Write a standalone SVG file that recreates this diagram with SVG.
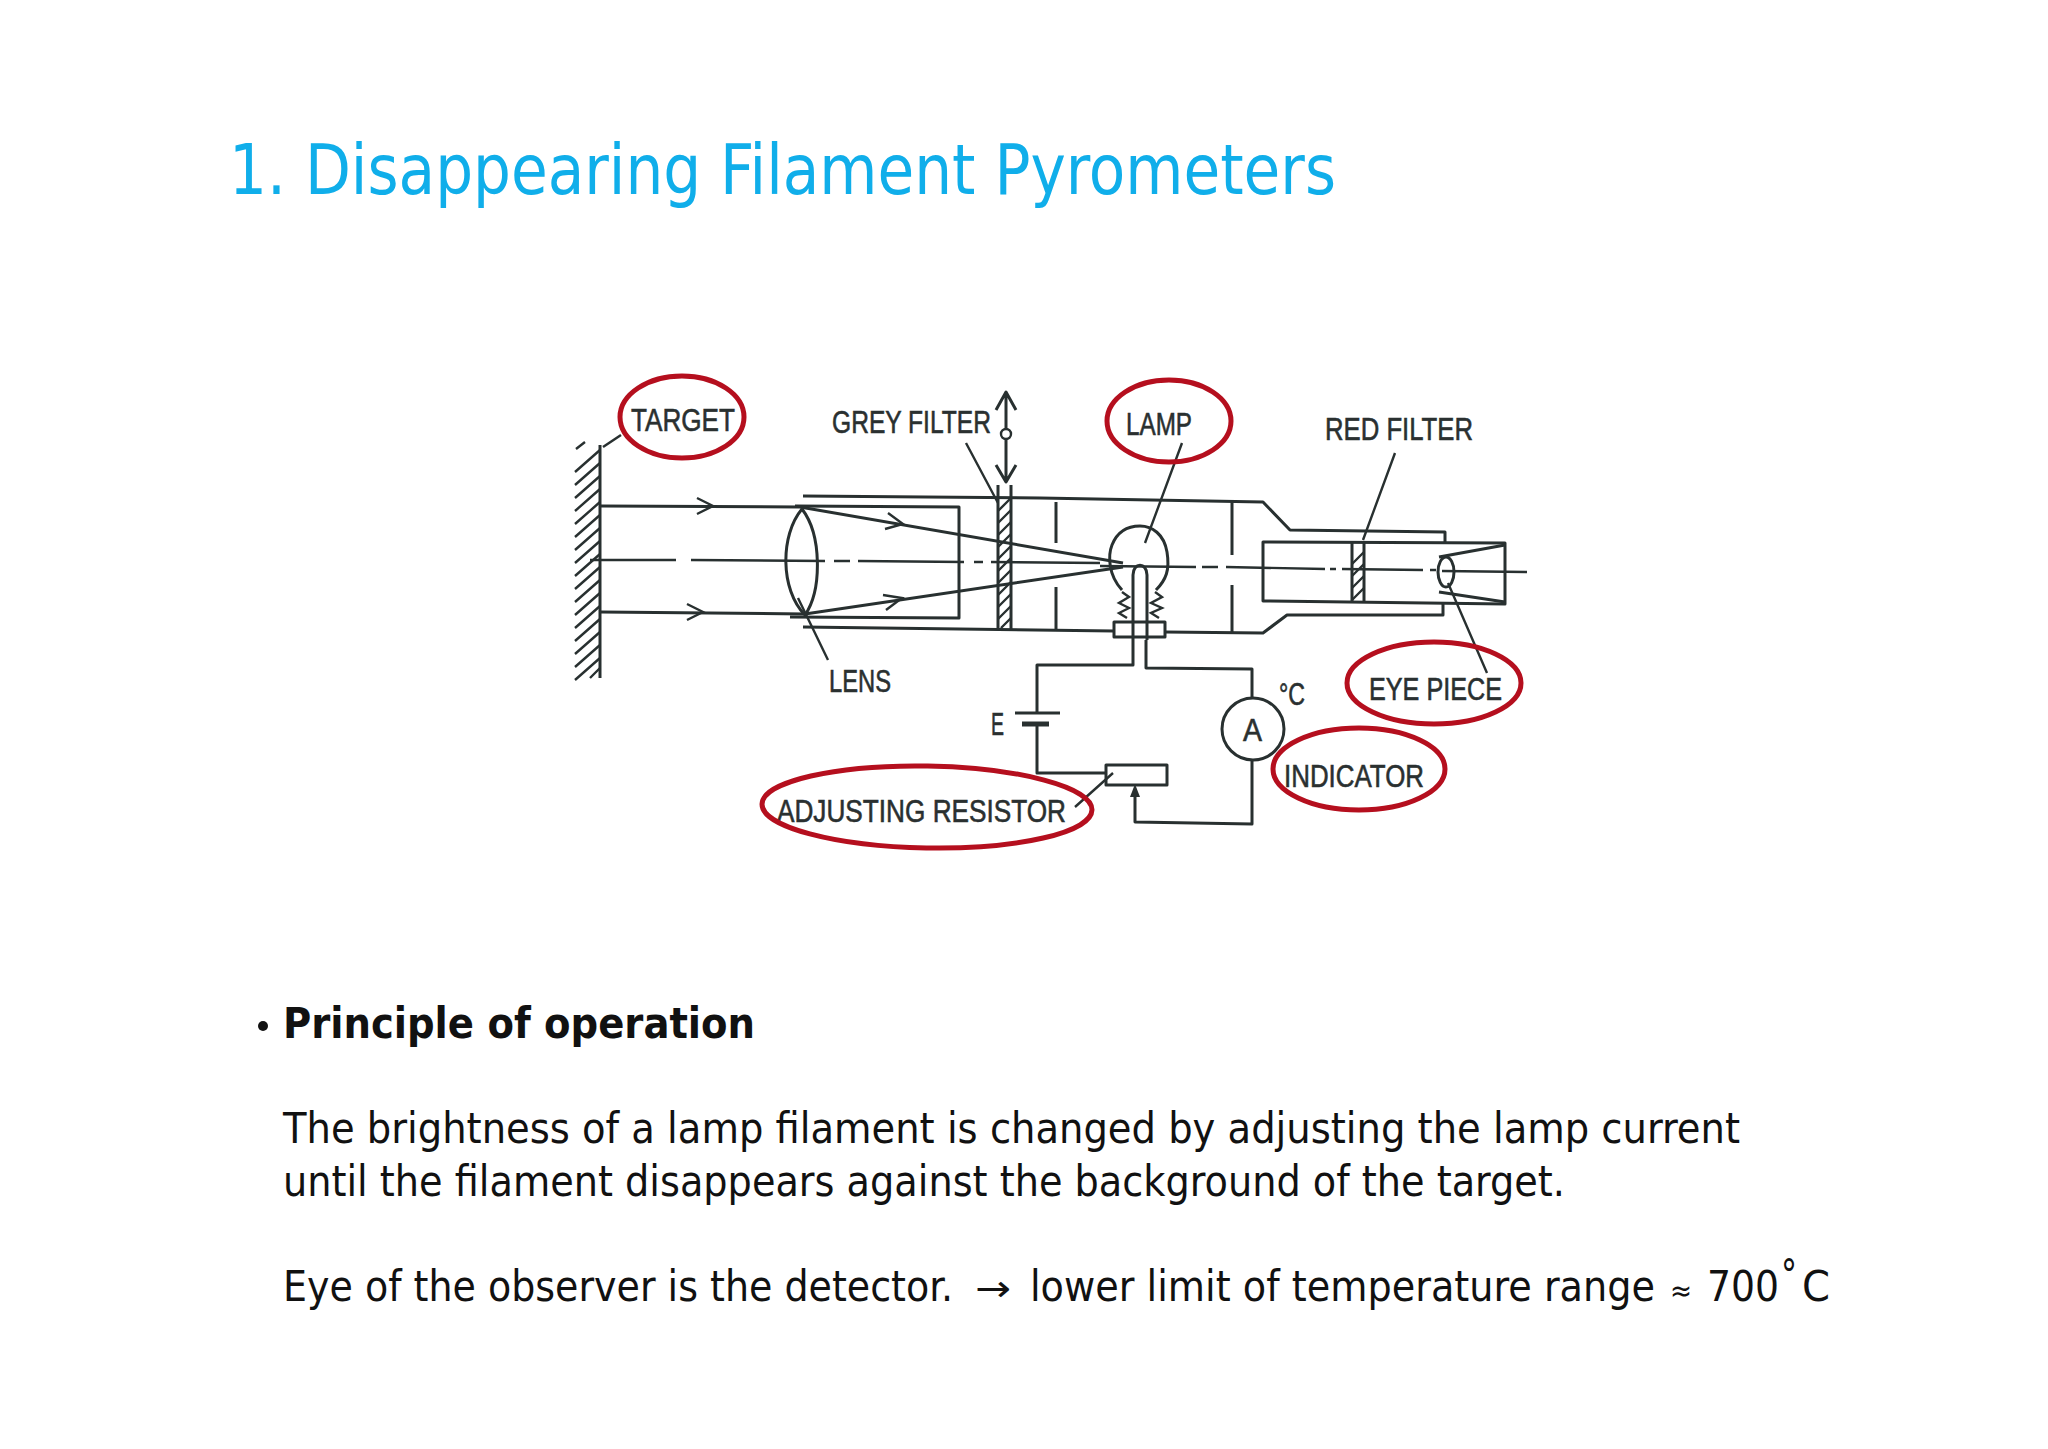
<svg xmlns="http://www.w3.org/2000/svg" width="2048" height="1449" viewBox="0 0 2048 1449">
<style>
.l{fill:none;stroke:#283030;stroke-width:3;stroke-linejoin:round}
.t{fill:none;stroke:#283030;stroke-width:2.4}
.o{fill:none;stroke:#b50f1e;stroke-width:5}
.lb{font-family:"Liberation Sans",Arial,sans-serif;font-size:32px;fill:#2a3030;stroke:#2a3030;stroke-width:.6}
.b{font-family:"DejaVu Sans","Noto Sans",sans-serif;font-stretch:condensed;font-size:43px;fill:#111}
</style>
<rect width="2048" height="1449" fill="#fff"/>
<text x="229" y="194" font-family="DejaVu Sans,Noto Sans,sans-serif" font-stretch="condensed" font-size="69" fill="#10aeea" textLength="1107" lengthAdjust="spacingAndGlyphs">1. Disappearing Filament Pyrometers</text>

<g id="target">
<path class="l" d="M600 445V678"/>
<path class="t" d="M585 442L576 449M600 450L575 472M600 463L575 485M600 476L575 498M600 489L575 511M600 502L575 524M600 515L575 537M600 528L575 550M600 541L575 563M600 554L575 576M600 567L575 589M600 580L575 602M600 593L575 615M600 606L575 628M600 619L575 641M600 632L575 654M600 645L575 667M600 658L575 680M600 668L590 678"/>
<path class="t" d="M603 447L621 435"/>
</g>

<g id="connectors">
<path class="t" d="M590 560H676M691 560L825 561M834 561H850M858 561L964 562M974 562H983M991 562L1100 563M1100 566L1196 567M1202 567H1218M1226 567L1325 569M1330 569H1336M1342 569L1423 570M1430 570H1436M1442 571L1527 572"/>
<path class="l" d="M601 506L800 507L1123 563M601 612L805 614L1123 567"/>
<path class="t" d="M697 498L713 506L697 514M687 604L703 612L687 620M888 513L903 524L885 529M883 595L902 598L886 610"/>
<path class="t" d="M966 443L998 503M828 660L798 598M1182 443L1145 543M1395 453L1363 540M1487 673L1448 583M1075 807L1113 773"/>
<path class="l" d="M1133 640V665H1037V713M1037 724V773H1106M1146 640V668L1252 669V698M1252 760V824L1135 822V790"/>
<path d="M1135 784L1130 797H1140Z" fill="#283030"/>
</g>

<g id="telescope">
<path class="l" d="M795 506L959 507V618L790 617"/>
<path class="l" d="M803 496L1040 498L1263 502L1290 530L1445 532V542M803 627L1114 631M1165 632L1263 633L1287 615L1443 615V604"/>
<path class="l" d="M1056 502V543M1056 587V630M1232 502V555M1232 585V632"/>
<path class="l" d="M1263 542L1505 543V604L1263 601Z"/>
</g>

<g id="lens"><path class="l" d="M802 509C780 535 780 590 805 615C822 590 822 535 802 509Z"/></g>

<g id="grey-filter">
<path class="l" d="M998 485V629M1011 485V629"/>
<path class="t" d="M1011 498L998 511M1011 510L998 523M1011 522L998 535M1011 534L998 547M1011 546L998 559M1011 558L998 571M1011 570L998 583M1011 582L998 595M1011 594L998 607M1011 606L998 619M1011 618L1001 628"/>
<path class="l" d="M1006 392V429M1006 439V482M996 410L1006 392L1016 410M996 465L1006 482L1016 465"/>
<circle class="t" cx="1006" cy="434" r="5"/>
</g>

<g id="lamp">
<path class="l" d="M1122 590C1108 575 1108 555 1112 545C1118 530 1130 526 1140 526C1152 526 1164 534 1167 552C1170 570 1166 580 1156 590"/>
<path class="l" d="M1133 640V575C1133 562 1147 562 1147 575V640"/>
<path class="t" d="M1122 592L1129 597L1119 603L1129 608L1119 613L1127 618M1155 592L1162 597L1151 603L1162 608L1151 613L1159 618"/>
<rect class="l" x="1114" y="622" width="51" height="15"/>
</g>

<g id="red-filter">
<path class="l" d="M1352 543V602M1364 543V602"/>
<path class="t" d="M1364 552L1352 564M1364 564L1352 576M1364 576L1352 588M1364 588L1352 600"/>
</g>

<g id="eye-piece">
<ellipse class="l" cx="1446" cy="572" rx="8" ry="15"/>
<path class="l" d="M1439 557L1505 545M1439 592L1505 602"/>
</g>

<g id="circuit">
<path class="l" d="M1015 713H1060"/>
<path d="M1022 724H1049" stroke="#283030" stroke-width="5"/>
<rect class="l" x="1106" y="765" width="61" height="20"/>
<circle class="l" cx="1253" cy="729" r="31"/>
<text class="lb" x="1243" y="741" textLength="19" lengthAdjust="spacingAndGlyphs">A</text>
<text class="lb" x="991" y="735" textLength="13" lengthAdjust="spacingAndGlyphs">E</text>
<text class="lb" x="1279" y="705" textLength="26" lengthAdjust="spacingAndGlyphs">°C</text>
</g>

<g id="labels">
<text class="lb" x="631" y="431" textLength="104" lengthAdjust="spacingAndGlyphs">TARGET</text>
<text class="lb" x="832" y="433" textLength="159" lengthAdjust="spacingAndGlyphs">GREY FILTER</text>
<text class="lb" x="1126" y="435" textLength="66" lengthAdjust="spacingAndGlyphs">LAMP</text>
<text class="lb" x="1325" y="440" textLength="148" lengthAdjust="spacingAndGlyphs">RED FILTER</text>
<text class="lb" x="829" y="692" textLength="62" lengthAdjust="spacingAndGlyphs">LENS</text>
<text class="lb" x="1369" y="700" textLength="133" lengthAdjust="spacingAndGlyphs">EYE PIECE</text>
<text class="lb" x="1284" y="787" textLength="140" lengthAdjust="spacingAndGlyphs">INDICATOR</text>
<text class="lb" x="777" y="822" textLength="289" lengthAdjust="spacingAndGlyphs">ADJUSTING RESISTOR</text>
</g>

<g id="highlights">
<ellipse class="o" cx="682" cy="417" rx="62" ry="41"/>
<ellipse class="o" cx="1169" cy="421" rx="62" ry="41"/>
<ellipse class="o" cx="1434" cy="683" rx="87" ry="41"/>
<ellipse class="o" cx="1359" cy="769" rx="86" ry="41"/>
<ellipse class="o" cx="927" cy="807" rx="165" ry="41" transform="rotate(1 927 807)"/>
</g>

<g id="body">
<circle cx="263" cy="1026" r="5" fill="#111"/>
<text class="b" x="283" y="1038" font-weight="bold" textLength="472" lengthAdjust="spacingAndGlyphs">Principle of operation</text>
<text class="b" x="283" y="1143" textLength="1457" lengthAdjust="spacingAndGlyphs">The brightness of a lamp filament is changed by adjusting the lamp current</text>
<text class="b" x="283" y="1196" textLength="1282" lengthAdjust="spacingAndGlyphs">until the filament disappears against the background of the target.</text>
<text class="b" y="1301"><tspan x="283" textLength="670" lengthAdjust="spacingAndGlyphs">Eye of the observer is the detector.</tspan><tspan x="975" style="font-size:36px" textLength="36" lengthAdjust="spacingAndGlyphs">→</tspan><tspan x="1030" textLength="625" lengthAdjust="spacingAndGlyphs">lower limit of temperature range</tspan><tspan x="1670" style="font-size:30px" textLength="22" lengthAdjust="spacingAndGlyphs">≈</tspan><tspan x="1707" textLength="72" lengthAdjust="spacingAndGlyphs">700</tspan><tspan x="1781" y="1290" textLength="16" lengthAdjust="spacingAndGlyphs">°</tspan><tspan x="1802" y="1301" textLength="28" lengthAdjust="spacingAndGlyphs">C</tspan></text>
</g>
</svg>
